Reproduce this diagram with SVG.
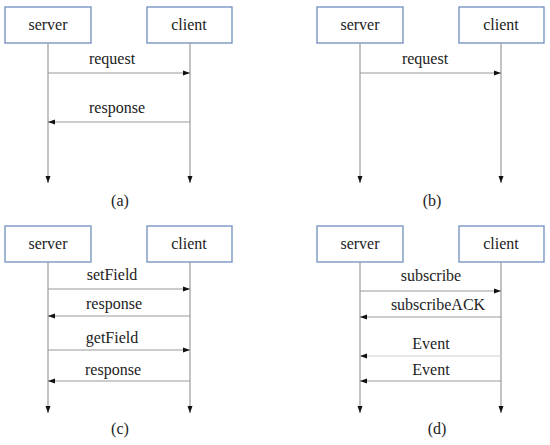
<svg xmlns="http://www.w3.org/2000/svg" width="550" height="445" viewBox="0 0 550 445">
<style>
.box{fill:#fff;stroke:#6f8fbf;stroke-width:1.3}
.t{font-family:"Liberation Serif","Times New Roman",serif;font-size:16px;fill:#222;text-anchor:middle}
.life{stroke:#9a9a9a;stroke-width:1.2;fill:none;marker-end:url(#ah)}
.msg{stroke:#9a9a9a;stroke-width:1.2;fill:none;marker-end:url(#ah)}
.light{stroke:#cfcfcf}
</style>
<defs>
<marker id="ah" markerUnits="userSpaceOnUse" markerWidth="8" markerHeight="6" refX="7" refY="3" orient="auto">
<path d="M0,0.5 L7,3 L0,5.5 Z" fill="#111"/>
</marker>
</defs>
<g id="a-server"><rect class="box" x="5" y="7" width="86" height="36"/><text class="t" x="48" y="30">server</text></g>
<g id="a-client"><rect class="box" x="147" y="7" width="85" height="36"/><text class="t" x="189" y="30">client</text></g>
<g id="b-server"><rect class="box" x="317" y="7" width="86" height="36"/><text class="t" x="360" y="30">server</text></g>
<g id="b-client"><rect class="box" x="459" y="7" width="85" height="36"/><text class="t" x="501" y="30">client</text></g>
<g id="c-server"><rect class="box" x="5" y="226" width="86" height="36"/><text class="t" x="48" y="249">server</text></g>
<g id="c-client"><rect class="box" x="147" y="226" width="85" height="36"/><text class="t" x="189" y="249">client</text></g>
<g id="d-server"><rect class="box" x="317" y="226" width="86" height="36"/><text class="t" x="360" y="249">server</text></g>
<g id="d-client"><rect class="box" x="459" y="226" width="85" height="36"/><text class="t" x="501" y="249">client</text></g>
<g id="connectors">
<line class="life" x1="48" y1="43" x2="48" y2="183"/>
<line class="life" x1="190" y1="43" x2="190" y2="183"/>
<line class="life" x1="360" y1="43" x2="360" y2="183"/>
<line class="life" x1="501" y1="43" x2="501" y2="183"/>
<line class="life" x1="48" y1="262" x2="48" y2="413"/>
<line class="life" x1="190" y1="262" x2="190" y2="413"/>
<line class="life" x1="360" y1="262" x2="360" y2="413"/>
<line class="life" x1="501" y1="262" x2="501" y2="413"/>
<line class="msg" x1="48" y1="73" x2="190" y2="73"/>
<line class="msg" x1="190" y1="122" x2="48" y2="122"/>
<line class="msg" x1="360" y1="73" x2="501" y2="73"/>
<line class="msg" x1="48" y1="289" x2="190" y2="289"/>
<line class="msg" x1="190" y1="316" x2="48" y2="316"/>
<line class="msg" x1="48" y1="350" x2="190" y2="350"/>
<line class="msg" x1="190" y1="381" x2="48" y2="381"/>
<line class="msg" x1="360" y1="291" x2="501" y2="291"/>
<line class="msg" x1="501" y1="317" x2="360" y2="317"/>
<line class="msg light" x1="501" y1="356" x2="360" y2="356"/>
<line class="msg" x1="501" y1="381" x2="360" y2="381"/>
</g>
<g id="labels">
<text class="t" x="112" y="64">request</text>
<text class="t" x="117" y="113">response</text>
<text class="t" x="425" y="64">request</text>
<text class="t" x="112" y="280">setField</text>
<text class="t" x="114" y="309">response</text>
<text class="t" x="112" y="343">getField</text>
<text class="t" x="113" y="375">response</text>
<text class="t" x="431" y="281">subscribe</text>
<text class="t" x="438" y="310">subscribeACK</text>
<text class="t" x="431" y="349">Event</text>
<text class="t" x="431" y="375">Event</text>
<text class="t" x="120" y="206">(a)</text>
<text class="t" x="432" y="206">(b)</text>
<text class="t" x="120" y="434">(c)</text>
<text class="t" x="437" y="434">(d)</text>
</g>
</svg>
